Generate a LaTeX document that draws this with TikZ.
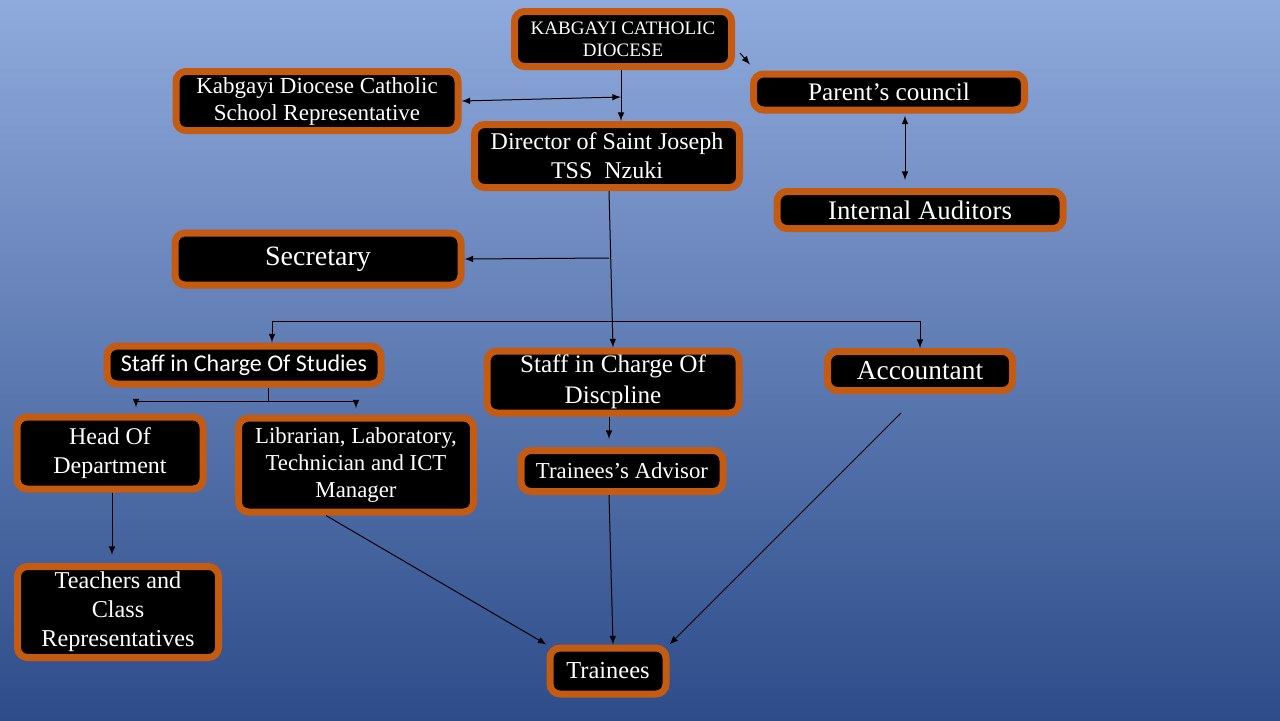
\documentclass[tikz,border=0pt]{standalone}
\usepackage{fontspec}
\setmainfont{Liberation Serif}
\newfontfamily\sansbody{Carlito}
\usetikzlibrary{arrows}
\definecolor{boxorange}{HTML}{C55A11}
\definecolor{skytop}{HTML}{8FAADC}
\definecolor{skymid}{HTML}{5080CC}
\definecolor{skybottom}{HTML}{2D4C89}
\tikzset{
	orgnode/.style = {
		align=center,
		inner sep=0pt,
		text centered,
		rectangle,
		rounded corners=5pt,
		text=white,
		fill=black,
		draw=boxorange,
		line width=3.5pt
	},
	node_small/.style = {
		orgnode,
		font=\fontsize{9.5}{11}\selectfont
	},
	node_mid/.style = {
		orgnode,
		font=\fontsize{11.5}{14}\selectfont
	},
	node_big/.style = {
		orgnode,
		font=\fontsize{13.5}{15}\selectfont
	},
	node_sans/.style = {
		orgnode,
		font=\sansbody\fontsize{12}{14}\selectfont
	},
	link/.style = {
		->,
		>=latex,
		line width=0.5pt,
		black
	},
}

\begin{document}
\begin{tikzpicture}[x=0.5pt,y=-0.5pt]
\shade[top color=skytop, middle color=skymid, bottom color=skybottom] (0,0) rectangle (1280,720);
\useasboundingbox (0,0) rectangle (1280,720);
% top of the chart
\node [node_small, minimum width=108.5pt, minimum height=27.5pt] (kab) at (623,39) {KABGAYI CATHOLIC\\DIOCESE};
\node [node_mid, minimum width=141pt, minimum height=29.5pt, font=\fontsize{11.5}{13.5}\selectfont] (rep) at (317,101) {Kabgayi Diocese Catholic\\School Representative};
\node [node_mid, minimum width=132.5pt, minimum height=31.5pt, font=\fontsize{12}{14.5}\selectfont] (dir) at (607,156) {Director of Saint Joseph\\TSS~ Nzuki};
\node [node_big, minimum width=135.5pt, minimum height=18pt, font=\fontsize{12.6}{14}\selectfont] (par) at (889,92) {Parent’s council};
\node [node_big, minimum width=143pt, minimum height=18.5pt, font=\fontsize{13.4}{15}\selectfont] (aud) at (920,210) {Internal Auditors};
\node [node_big, minimum width=143pt, minimum height=26pt, font=\fontsize{14}{16}\selectfont] (sec) at (318,259) {Secretary};
% middle row
\node [node_sans, minimum width=137pt, minimum height=19pt] (stud) at (244,365) {Staff in Charge Of Studies};
\node [node_mid, minimum width=126pt, minimum height=31pt, font=\fontsize{12.6}{15.5}\selectfont] (disc) at (613,382) {Staff in Charge Of\\Discpline};
\node [node_big, minimum width=92.5pt, minimum height=19.5pt, font=\fontsize{13.7}{15}\selectfont] (acc) at (920,371) {Accountant};
% lower rows
\node [node_mid, minimum width=93pt, minimum height=36pt, font=\fontsize{12}{14.5}\selectfont] (head) at (110,453) {Head Of\\Department};
\node [node_mid, minimum width=117.5pt, minimum height=47pt, font=\fontsize{11.4}{13.5}\selectfont] (lib) at (356,465) {Librarian, Laboratory,\\Technician and ICT\\Manager};
\node [node_mid, minimum width=101pt, minimum height=20.5pt, font=\fontsize{11.4}{13}\selectfont] (adv) at (622,471) {Trainees’s Advisor};
\node [node_mid, minimum width=100.5pt, minimum height=45.5pt, font=\fontsize{12.1}{14.5}\selectfont] (teach) at (118,612) {Teachers and\\Class\\Representatives};
\node [node_mid, minimum width=58pt, minimum height=23pt, font=\fontsize{12.2}{14}\selectfont] (tr) at (608,671) {Trainees};
% joints on the lines
\coordinate (repjoin) at (621,97);
\coordinate (secjoin) at (609,258);
\coordinate (bus) at (610,321);
\coordinate (studfork) at (268,401);
\coordinate (accfoot) at (901,413);
\coordinate (kabtip) at (740,53);
% connectors
\draw [link] ([xshift=-1pt]kab.south) -- ([xshift=-1pt]kab.south |- dir.north);
\draw [link, <->] (rep.east) -- (repjoin);
\draw [link] (kabtip) -- ([yshift=3pt]par.north west);
\draw [link, <->, shorten >=4pt, shorten <=1pt] ([xshift=8pt]par.south) -- ([xshift=8pt]par.south |- aud.north);
\draw [link] ([xshift=1pt]dir.south) -- (disc.north);
\draw [link] (secjoin) -- (sec.east);
\draw [link] (bus) -| ([xshift=14pt]stud.north);
\draw [link] (bus) -| (acc.north);
\draw [line width=0.5pt] (studfork |- stud.south) -- (studfork);
\draw [link, shorten >=3pt] (studfork) -| ([xshift=13pt]head.north);
\draw [link, shorten >=3pt] (studfork) -| (lib.north);
\draw [link, shorten >=4pt] ([xshift=1pt]head.south) -- ([xshift=1pt]head.south |- teach.north);
\draw [link, shorten >=4pt] ([xshift=-2pt]disc.south) -- ([xshift=-2pt]disc.south |- adv.north);
\draw [link] ([xshift=-6.5pt]adv.south) -- ([xshift=2.5pt]tr.north);
\draw [link] ([xshift=-15pt]lib.south) -- (tr.north west);
\draw [link] (accfoot) -- (tr.north east);
\end{tikzpicture}
\end{document}
